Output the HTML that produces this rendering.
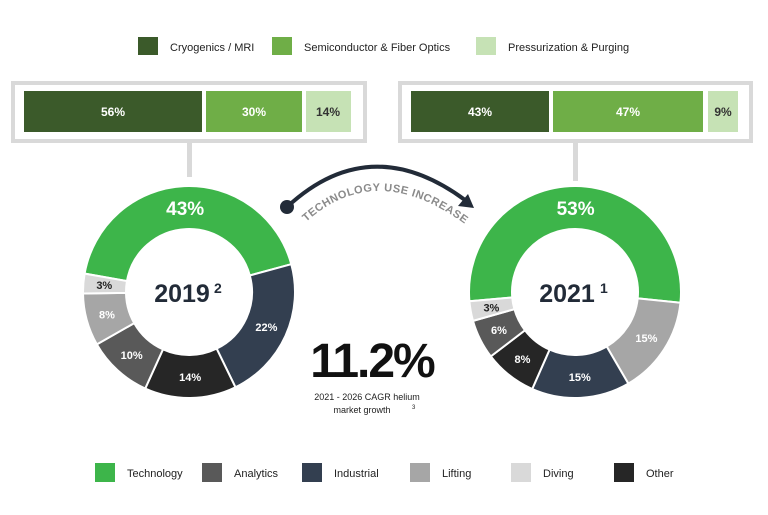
<!DOCTYPE html>
<html><head><meta charset="utf-8"><style>
body{margin:0;width:768px;height:515px;background:#fff;overflow:hidden;font-family:"Liberation Sans",sans-serif}
svg{display:block}
</style></head><body>
<svg id="s" width="768" height="515" viewBox="0 0 768 515" xmlns="http://www.w3.org/2000/svg" font-family="Liberation Sans, sans-serif">
<rect x="138" y="37" width="20" height="18" fill="#3b5a2a"/><text x="170" y="51" font-size="11" fill="#222">Cryogenics / MRI</text>
<rect x="272" y="37" width="20" height="18" fill="#6fae47"/><text x="304" y="51" font-size="11" fill="#222">Semiconductor &amp; Fiber Optics</text>
<rect x="476" y="37" width="20" height="18" fill="#c6e2b5"/><text x="508" y="51" font-size="11" fill="#222">Pressurization &amp; Purging</text>
<rect x="13" y="83" width="352" height="58" fill="none" stroke="#d9d9d9" stroke-width="4"/>
<rect x="24" y="91" width="178" height="41" fill="#3b5a2a"/><rect x="206" y="91" width="96" height="41" fill="#6fae47"/><rect x="306" y="91" width="45" height="41" fill="#c6e2b5"/>
<g font-weight="bold" font-size="12" text-anchor="middle"><text x="113" y="116" fill="#fff">56%</text><text x="254" y="116" fill="#fff">30%</text><text x="328" y="116" fill="#333">14%</text></g>
<rect x="400" y="83" width="351" height="58" fill="none" stroke="#d9d9d9" stroke-width="4"/>
<rect x="411" y="91" width="138" height="41" fill="#3b5a2a"/><rect x="553" y="91" width="150" height="41" fill="#6fae47"/><rect x="708" y="91" width="30" height="41" fill="#c6e2b5"/>
<g font-weight="bold" font-size="12" text-anchor="middle"><text x="480" y="116" fill="#fff">43%</text><text x="628" y="116" fill="#fff">47%</text><text x="723" y="116" fill="#333">9%</text></g>
<rect x="187" y="143" width="5" height="34" fill="#d9d9d9"/>
<rect x="573" y="143" width="5" height="38" fill="#d9d9d9"/>
<g id="d1"></g><g id="d2"></g>
<text x="182" y="302" font-size="25" font-weight="bold" fill="#222b38" text-anchor="middle">2019</text><text x="214" y="293" font-size="14" font-weight="bold" fill="#222b38">2</text>
<text x="567" y="302" font-size="25" font-weight="bold" fill="#222b38" text-anchor="middle">2021</text><text x="600" y="293" font-size="14" font-weight="bold" fill="#222b38">1</text>
<path d="M287 207 Q370 130 465 200" fill="none" stroke="#222b38" stroke-width="4"/>
<circle cx="287" cy="207" r="7" fill="#222b38"/>
<path d="M474 208 L458 206 L468 194 Z" fill="#222b38"/>
<path id="tp" d="M306 222 Q375 160 462 222" fill="none"/>
<text font-size="11" font-weight="bold" fill="#8a8a8a" letter-spacing="0.5"><textPath href="#tp">TECHNOLOGY USE INCREASE</textPath></text>
<text x="372" y="377" font-size="48" font-weight="bold" fill="#111" text-anchor="middle" letter-spacing="-2">11.2%</text>
<text x="367" y="400" font-size="9" fill="#222" text-anchor="middle">2021 - 2026 CAGR helium</text>
<text x="362" y="413" font-size="9" fill="#222" text-anchor="middle">market growth</text><text x="412" y="409" font-size="6" fill="#222">3</text>
<g font-size="11" fill="#222">
<rect x="95" y="463" width="20" height="19" fill="#3db54a"/><text x="127" y="477">Technology</text>
<rect x="202" y="463" width="20" height="19" fill="#595959"/><text x="234" y="477">Analytics</text>
<rect x="302" y="463" width="20" height="19" fill="#333f50"/><text x="334" y="477">Industrial</text>
<rect x="410" y="463" width="20" height="19" fill="#a6a6a6"/><text x="442" y="477">Lifting</text>
<rect x="511" y="463" width="20" height="19" fill="#d9d9d9"/><text x="543" y="477">Diving</text>
<rect x="614" y="463" width="20" height="19" fill="#262626"/><text x="646" y="477">Other</text>
</g>
</svg>
<script>
function donut(id,cx,cy,start,segs){
 var g=document.getElementById(id),R=106,r=63,a=start,h="";
 function p(rad,ang){var t=(ang-90)*Math.PI/180;return [cx+rad*Math.cos(t),cy+rad*Math.sin(t)];}
 segs.forEach(function(s){
  var b=a+s[0]*3.6,l=(b-a)>180?1:0,o1=p(R,a),o2=p(R,b),i2=p(r,b),i1=p(r,a);
  h+='<path d="M'+o1+' A'+R+' '+R+' 0 '+l+' 1 '+o2+' L'+i2+' A'+r+' '+r+' 0 '+l+' 0 '+i1+'Z" fill="'+s[1]+'" stroke="#fff" stroke-width="2"/>';
  var m=p(s[3]||85,(a+b)/2);
  h+='<text x="'+m[0]+'" y="'+(m[1]+(s[4]||4))+'" text-anchor="middle" font-weight="bold" font-size="'+(s[5]||11)+'" fill="'+s[2]+'">'+s[0]+'%</text>';
  a=b;});
 g.innerHTML=h;
}
donut("d1",189,292,-80,[[43,"#3db54a","#fff",84,7,19],[22,"#333f50","#fff"],[14,"#262626","#fff"],[10,"#595959","#fff"],[8,"#a6a6a6","#fff"],[3,"#d9d9d9","#222"]]);
donut("d2",575,292,-95,[[53,"#3db54a","#fff",84,7,19],[15,"#a6a6a6","#fff"],[15,"#333f50","#fff"],[8,"#262626","#fff"],[6,"#595959","#fff"],[3,"#d9d9d9","#222"]]);
</script>
</body></html>
